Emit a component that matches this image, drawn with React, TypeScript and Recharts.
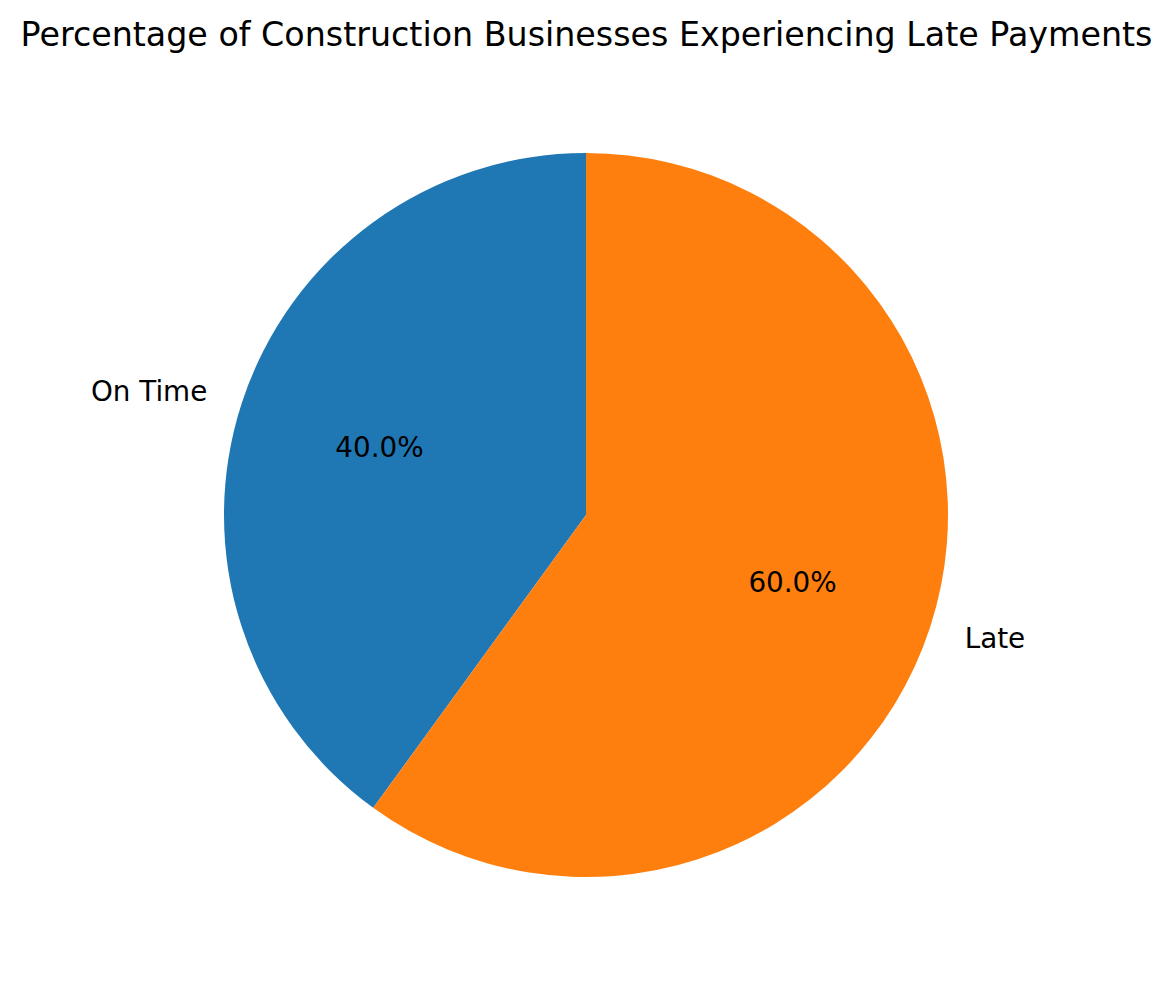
import { PieChart, Pie, Cell } from "recharts";

const categories = ["On Time", "Late"];
const shares = [40, 60];
const colors = ["#1f77b4", "#ff7f0e"];

const data = categories.map((name, i) => ({ name, value: shares[i] }));

const RADIAN = Math.PI / 180;
const FONT = "DejaVu Sans, sans-serif";

function renderLabel(props: any) {
  const { cx, cy, midAngle, outerRadius, percent, name } = props;
  const cos = Math.cos(-midAngle * RADIAN);
  const sin = Math.sin(-midAngle * RADIAN);
  const rOut = outerRadius * 1.1;
  const rIn = outerRadius * 0.6;
  return (
    <g>
      <text
        x={cx + rOut * cos}
        y={cy + rOut * sin}
        textAnchor={cos < 0 ? "end" : "start"}
        dominantBaseline="central"
        fontSize={27.8}
        fontFamily={FONT}
        fill="#000"
      >
        {name}
      </text>
      <text
        x={cx + rIn * cos}
        y={cy + rIn * sin}
        textAnchor="middle"
        dominantBaseline="central"
        fontSize={27.8}
        fontFamily={FONT}
        fill="#000"
      >
        {(percent * 100).toFixed(1)}%
      </text>
    </g>
  );
}

export default function App() {
  return (
    <div style={{ position: "absolute", left: 0, top: 0, width: 1173, height: 988, background: "#fff" }}>
      <div
        style={{
          position: "absolute",
          top: 0,
          left: 0,
          width: 1173,
          lineHeight: "70px",
          textAlign: "center",
          fontFamily: FONT,
          fontSize: 33.3,
          color: "#000",
        }}
      >
        Percentage of Construction Businesses Experiencing Late Payments
      </div>
      <PieChart width={1173} height={988} margin={{ top: 0, right: 0, bottom: 0, left: 0 }}>
        <Pie
          data={data}
          dataKey="value"
          nameKey="name"
          cx={586}
          cy={515}
          outerRadius={362}
          startAngle={90}
          endAngle={450}
          stroke="none"
          label={renderLabel}
          labelLine={false}
          isAnimationActive={false}
        >
          {data.map((d, i) => (
            <Cell key={d.name} fill={colors[i]} />
          ))}
        </Pie>
      </PieChart>
    </div>
  );
}
